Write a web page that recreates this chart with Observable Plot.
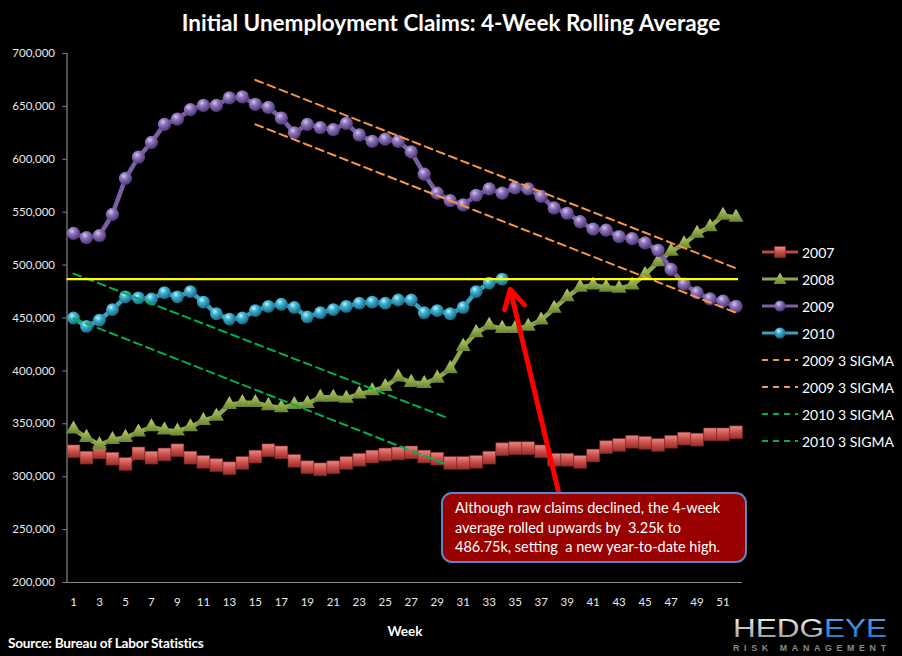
<!DOCTYPE html>
<html>
<head>
<meta charset="utf-8">
<script src="https://cdn.jsdelivr.net/npm/d3@7"></script>
<script src="https://cdn.jsdelivr.net/npm/@observablehq/plot@0.6"></script>
<style>
  html, body { margin: 0; padding: 0; background: #000; }
  #chart { position: relative; width: 902px; height: 656px; background: #000; overflow: hidden;
           font-family: Lato, "Open Sans", sans-serif; color: #fff; }
  #chart > svg.plot { position: absolute; left: 0; top: 0; }
  .abs { position: absolute; white-space: nowrap; }
  .title { left: 451px; top: 22px; transform: translate(-50%, -50%); font-size: 22.5px; font-weight: 700; }
  .xlabel { left: 405px; top: 631px; transform: translate(-50%, -50%); font-size: 13.5px; font-weight: 700; }
  .source { left: 8px; top: 643px; transform: translateY(-50%); font-size: 13.6px; font-weight: 700; letter-spacing: -0.2px; }
  .legend-row { position: absolute; left: 762px; height: 20px; display: flex; align-items: center; font-size: 14px; }
  .legend-row svg { margin-right: 4px; overflow: visible; }
  .note { left: 441px; top: 492px; width: 302px; height: 67px; background: #990000; border: 2.5px solid #5b86c2;
          border-radius: 11px; box-sizing: content-box; }
  .note div { position: absolute; left: 12px; top: 4px; font-size: 14.5px; line-height: 19.6px; white-space: pre; color: #fff; }
</style>
</head>
<body>
<svg width="0" height="0" style="position:absolute">
  <defs>
    <radialGradient id="ball2009" cx="38%" cy="32%" r="70%">
      <stop offset="0%" stop-color="#d6c8f0"/>
      <stop offset="35%" stop-color="#9077bb"/>
      <stop offset="100%" stop-color="#4b3374"/>
    </radialGradient>
    <radialGradient id="ball2010" cx="38%" cy="32%" r="70%">
      <stop offset="0%" stop-color="#c8f3ff"/>
      <stop offset="35%" stop-color="#3fb3d3"/>
      <stop offset="100%" stop-color="#16657e"/>
    </radialGradient>
    <linearGradient id="tri2008" x1="0" y1="0" x2="0" y2="1">
      <stop offset="0%" stop-color="#b7d06e"/>
      <stop offset="100%" stop-color="#6b8530"/>
    </linearGradient>
    <linearGradient id="sq2007" x1="0" y1="0" x2="0" y2="1">
      <stop offset="0%" stop-color="#ec8a86"/>
      <stop offset="50%" stop-color="#c9504c"/>
      <stop offset="100%" stop-color="#952d2a"/>
    </linearGradient>
    <linearGradient id="silver" x1="0" y1="0" x2="0" y2="1">
      <stop offset="0%" stop-color="#ffffff"/>
      <stop offset="100%" stop-color="#8c8c8c"/>
    </linearGradient>
    <linearGradient id="eyeBlue" x1="0" y1="0" x2="0" y2="1">
      <stop offset="0%" stop-color="#5aa8f0"/>
      <stop offset="100%" stop-color="#1f6fc4"/>
    </linearGradient>
  </defs>
</svg>
<div id="chart"></div>
<script>
// Initial jobless claims, 4-week rolling average (thousands), by week of year
const weeks = d3.range(1, 53);
const claims2007 = [324,318,323,317,312,322,318,321,325,318,314,311,308,313,319,325,323,315,309,307,
                    309,313,316,319,321,322,323,319,317,313,313,314,318,326,327,327,324,316,316,314,
                    320,328,330,333,332,330,333,336,335,340,340,342];
const claims2008 = [345,337,330,335,337,342,347,344,343,347,353,357,368,370,370,367,365,368,369,375,
                    375,374,378,381,385,394,389,388,393,402,423,436,443,440,440,442,448,459,470,479,
                    481,479,478,481,491,503,513,520,530,536,547,545];
const claims2009 = [530,526,528,548,582,602,616,633,638,647,651,651,658,659,652,649,639,625,633,630,
                    628,634,623,617,619,617,607,586,568,561,557,566,572,568,573,572,565,554,549,541,
                    534,533,527,525,521,514,496,482,474,468,466,461];
const claims2010 = [450,442,448,458,470,469,468,474,470,475,465,454,449,450,457,461,463,460,451,455,
                    458,461,464,465,464,467,467,455,457,454,460,475,483,486.75];

// 3-sigma channel end points: [week, claims (thousands)]
const sigma2009Upper = [[15, 675], [52, 497]];
const sigma2009Lower = [[15, 633], [52, 455]];
const sigma2010Upper = [[1, 492], [29.7, 356]];
const sigma2010Lower = [[1, 449.5], [29.7, 311.5]];

// Year-to-date high for 2010 (thousands) and the callout arrow that points at it
const yearHigh2010 = claims2010[claims2010.length - 1];
const calloutArrow = {fromWeek: 38.35, fromClaims: 285, toWeek: 34.62, toClaims: 477};
const calloutLines = [
  "Although raw claims declined, the 4-week",
  "average rolled upwards by  3.25k to",
  "486.75k, setting  a new year-to-date high."
];

const yTicks = d3.range(200000, 700001, 50000);
const xTicks = d3.range(1, 52, 2);

const series = (values) => values.map((v, i) => ({week: weeks[i], claims: v * 1000}));
const segment = (pts) => pts.map(([w, v]) => ({week: w, claims: v * 1000}));

const d2007 = series(claims2007);
const d2008 = series(claims2008);
const d2009 = series(claims2009);
const d2010 = series(claims2010);

const styles = {
  s2007: {line: "#b84a46", fill: "url(#sq2007)", symbol: "square", r: 7.2},
  s2008: {line: "#8ea64c", fill: "url(#tri2008)", symbol: "triangle", r: 5.6},
  s2009: {line: "#7a5ea6", fill: "url(#ball2009)", symbol: "circle", r: 6.6},
  s2010: {line: "#3aa2c0", fill: "url(#ball2010)", symbol: "circle", r: 6.4}
};
const orange = "#f79646", green = "#00b050";

const seriesMarks = (data, s) => [
  Plot.line(data, {x: "week", y: "claims", stroke: s.line, strokeWidth: 4.5, curve: "linear"}),
  Plot.dot(data, {x: "week", y: "claims", symbol: s.symbol, r: s.r, fill: s.fill,
                  stroke: s.symbol === "square" ? "#8a2826" : "none", strokeWidth: 0.6})
];
const dashed = (pts, color) =>
  Plot.line(segment(pts), {x: "week", y: "claims", stroke: color, strokeWidth: 2, strokeDasharray: "8,5"});

const plot = Plot.plot({
  width: 902,
  height: 656,
  marginTop: 53,
  marginBottom: 74,
  marginLeft: 66.5,
  marginRight: 160,
  style: {background: "#000", color: "#e9e9e9", fontFamily: "Lato, 'Open Sans', sans-serif", fontSize: "11.5px"},
  x: {domain: [0.5, 52.5]},
  y: {domain: [200000, 700000]},
  marks: [
    Plot.axisY({ticks: yTicks, tickFormat: d3.format(","), tickSize: 4, tickPadding: 8, stroke: "#8a8a8a", label: null}),
    Plot.axisX({ticks: xTicks, tickFormat: d => String(d), tickSize: 0, tickPadding: 15, label: null}),
    Plot.ruleX([0.5], {stroke: "#8a8a8a", strokeWidth: 1.2}),
    Plot.ruleY([200000], {stroke: "#8a8a8a", strokeWidth: 1.2}),
    ...seriesMarks(d2007, styles.s2007),
    ...seriesMarks(d2008, styles.s2008),
    ...seriesMarks(d2009, styles.s2009),
    ...seriesMarks(d2010, styles.s2010),
    dashed(sigma2009Upper, orange),
    dashed(sigma2009Lower, orange),
    dashed(sigma2010Upper, green),
    dashed(sigma2010Lower, green),
    Plot.ruleY([yearHigh2010 * 1000], {x1: 0.5, x2: 52.2, stroke: "#ffff00", strokeWidth: 2.2}),
    Plot.arrow([calloutArrow], {
      x1: "fromWeek", y1: d => d.fromClaims * 1000, x2: "toWeek", y2: d => d.toClaims * 1000,
      stroke: "#ff0000", strokeWidth: 5, headLength: 6.3, headAngle: 58
    })
  ]
});

const chart = document.getElementById("chart");
chart.appendChild(plot);

function addDiv(cls, text) {
  const el = document.createElement("div");
  el.className = "abs " + cls;
  if (text != null) el.textContent = text;
  chart.appendChild(el);
  return el;
}

addDiv("title", "Initial Unemployment Claims: 4-Week Rolling Average");
addDiv("xlabel", "Week");
addDiv("source", "Source: Bureau of Labor Statistics");

// Callout box
const note = addDiv("note");
const noteText = document.createElement("div");
noteText.textContent = calloutLines.join("\n");
note.appendChild(noteText);

// Legend
const svgNS = "http://www.w3.org/2000/svg";
const legendItems = [
  {label: "2007", color: styles.s2007.line, marker: "square", fill: styles.s2007.fill},
  {label: "2008", color: styles.s2008.line, marker: "triangle", fill: styles.s2008.fill},
  {label: "2009", color: styles.s2009.line, marker: "circle", fill: styles.s2009.fill},
  {label: "2010", color: styles.s2010.line, marker: "circle", fill: styles.s2010.fill},
  {label: "2009 3 SIGMA", color: orange, dash: true},
  {label: "2009 3 SIGMA", color: orange, dash: true},
  {label: "2010 3 SIGMA", color: green, dash: true},
  {label: "2010 3 SIGMA", color: green, dash: true}
];
legendItems.forEach((item, i) => {
  const row = document.createElement("div");
  row.className = "legend-row";
  row.style.top = (252 + i * 27 - 10) + "px";
  const s = document.createElementNS(svgNS, "svg");
  s.setAttribute("width", 36); s.setAttribute("height", 14);
  const ln = document.createElementNS(svgNS, "line");
  ln.setAttribute("x1", 0); ln.setAttribute("x2", 36); ln.setAttribute("y1", 7); ln.setAttribute("y2", 7);
  ln.setAttribute("stroke", item.color);
  ln.setAttribute("stroke-width", item.dash ? 2 : 3);
  if (item.dash) ln.setAttribute("stroke-dasharray", "6,5");
  s.appendChild(ln);
  if (item.marker) {
    let m;
    if (item.marker === "circle") {
      m = document.createElementNS(svgNS, "circle");
      m.setAttribute("cx", 18); m.setAttribute("cy", 7); m.setAttribute("r", 5.5);
    } else if (item.marker === "square") {
      m = document.createElementNS(svgNS, "rect");
      m.setAttribute("x", 12.5); m.setAttribute("y", 1.5); m.setAttribute("width", 11); m.setAttribute("height", 11);
      m.setAttribute("stroke", "#8a2826"); m.setAttribute("stroke-width", 0.6);
    } else {
      m = document.createElementNS(svgNS, "path");
      m.setAttribute("d", "M18,0.5L24.5,12L11.5,12Z");
    }
    m.setAttribute("fill", item.fill);
    s.appendChild(m);
  }
  row.appendChild(s);
  const t = document.createElement("span");
  t.textContent = item.label;
  row.appendChild(t);
  chart.appendChild(row);
});

// Logo
const logo = document.createElementNS(svgNS, "svg");
logo.setAttribute("width", 170); logo.setAttribute("height", 48);
logo.style.position = "absolute"; logo.style.left = "730px"; logo.style.top = "608px";
logo.innerHTML =
  '<text x="3" y="29" font-family="Liberation Sans, Arial, sans-serif" font-size="26" textLength="154" lengthAdjust="spacingAndGlyphs">' +
  '<tspan fill="url(#silver)">HEDG</tspan><tspan fill="url(#eyeBlue)">EYE</tspan></text>' +
  '<text x="3" y="43" font-family="Liberation Sans, Arial, sans-serif" font-size="8.8" font-weight="700" fill="#8a8a8a" textLength="153" lengthAdjust="spacing">RISK MANAGEMENT</text>';
chart.appendChild(logo);
</script>
</body>
</html>
